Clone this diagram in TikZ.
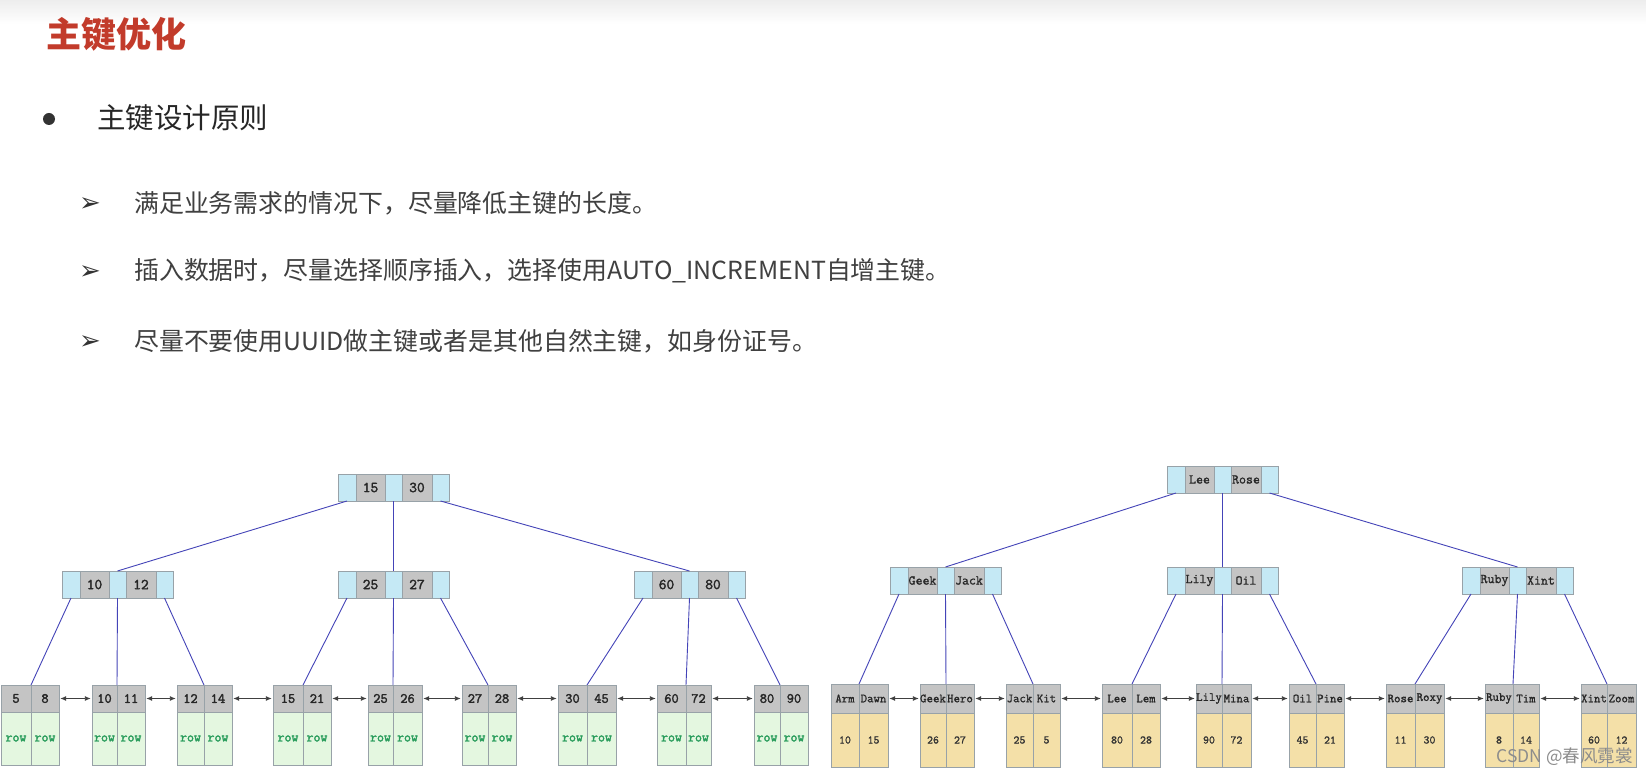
\documentclass[tikz,border=0pt]{standalone}
\usepackage{fontspec}
\setmainfont{Liberation Sans}
\newfontfamily\cjk{Noto Sans CJK SC}
\newfontfamily\cour{Latin Modern Mono}
\newfontfamily\courb{Latin Modern Mono}[FakeBold=2.2]
\newfontfamily\courm{Latin Modern Mono}[FakeBold=1.2]
\newfontfamily\djv{DejaVu Sans}
\usetikzlibrary{arrows.meta}
\definecolor{titlered}{HTML}{C23B2B}
\definecolor{ptr}{HTML}{C5E9F5}
\definecolor{keyg}{HTML}{C4C4C4}
\definecolor{cellb}{HTML}{98A2A8}
\definecolor{rowg}{HTML}{E4F7E0}
\definecolor{tanc}{HTML}{F4E0A8}
\definecolor{edgec}{HTML}{4444B8}
\definecolor{rowtxt}{HTML}{2A9D5C}
\definecolor{arrowc}{HTML}{404040}
\definecolor{bodytxt}{HTML}{404040}
\tikzset{
  cell/.style={draw=cellb, line width=0.9pt, inner sep=0pt, outer sep=0pt, anchor=north west},
  pcell/.style={cell, fill=ptr, minimum height=27pt},
  kcell/.style={cell, fill=keyg, minimum height=27pt},
  lfont/.style={font=\courb\fontsize{15}{15}\selectfont, text=black!85},
  llfont/.style={font=\courb\fontsize{14}{14}\selectfont, text=black!85},
  rfont/.style={font=\courm\fontsize{13.5}{13.5}\selectfont, text=black!85},
  rlfont/.style={font=\courm\fontsize{12.5}{12.5}\selectfont, text=black!85},
  rowfont/.style={font=\courb\fontsize{13.5}{13.5}\selectfont, text=rowtxt},
  valfont/.style={font=\courm\fontsize{11.5}{11.5}\selectfont, text=black!80},
  edge/.style={draw=edgec, line width=0.9pt},
  leafarrow/.style={{Latex[length=6pt,width=5pt]}-{Latex[length=6pt,width=5pt]}, draw=arrowc, line width=0.9pt, shorten >=1.2pt, shorten <=1.2pt},
  bodytext/.style={anchor=west, inner sep=0pt, text=bodytxt, font=\cjk\fontsize{24.9}{24.9}\selectfont},
  arrbullet/.style={inner sep=0pt, text=black!80, font=\djv\fontsize{26}{26}\selectfont},
}
% internal node: name, left, top, key1, key2, font style
\newcommand\inode[6]{%
  \node[pcell, minimum width=18pt] (#1-p1) at (#2,#3) {};
  \node[kcell, minimum width=29pt, #6] (#1-k1) at (#1-p1.north east) {#4};
  \node[pcell, minimum width=17pt] (#1-p2) at (#1-k1.north east) {};
  \node[kcell, minimum width=30pt, #6] (#1-k2) at (#1-p2.north east) {#5};
  \node[pcell, minimum width=17pt] (#1-p3) at (#1-k2.north east) {};
}
% left leaf: name, left, split, right, key1, key2
\newcommand\lleaf[6]{%
  \node[kcell, llfont, minimum width=#3pt-#2pt] (#1-k1) at (#2,685) {#5};
  \node[kcell, llfont, minimum width=#4pt-#3pt] (#1-k2) at (#1-k1.north east) {#6};
  \node[cell, fill=rowg, rowfont, minimum height=53pt, minimum width=#3pt-#2pt] (#1-v1) at (#1-k1.south west) {row};
  \node[cell, fill=rowg, rowfont, minimum height=53pt, minimum width=#4pt-#3pt] (#1-v2) at (#1-k1.south east) {row};
}
% right leaf: name, left, split, right, key1, key2, val1, val2
\newcommand\rleaf[8]{%
  \node[kcell, rlfont, minimum height=29pt, minimum width=#3pt-#2pt] (#1-k1) at (#2,684) {#5};
  \node[kcell, rlfont, minimum height=29pt, minimum width=#4pt-#3pt] (#1-k2) at (#1-k1.north east) {#6};
  \node[cell, fill=tanc, valfont, minimum height=54pt, minimum width=#3pt-#2pt] (#1-v1) at (#1-k1.south west) {#7};
  \node[cell, fill=tanc, valfont, minimum height=54pt, minimum width=#4pt-#3pt] (#1-v2) at (#1-k1.south east) {#8};
}
\begin{document}
\begin{tikzpicture}[x=1pt, y=-1pt]
\useasboundingbox (0,0) rectangle (1646,775);
\fill[white] (0,0) rectangle (1646,775);
\shade[top color=black!7, bottom color=white] (0,0) rectangle (1646,24);

% ---- text ----
\node[anchor=west, inner sep=0pt, text=titlered, font=\cjk\bfseries\fontsize{35}{35}\selectfont] (title) at (46,34) {主键优化};
\fill[black!80] (49,119) circle (6);
\node[anchor=west, inner sep=0pt, text=black!85, font=\cjk\fontsize{28.5}{28.5}\selectfont] (head) at (97,118) {主键设计原则};
\node[arrbullet] (b1) at (90,205) {➢};
\node[arrbullet] (b2) at (90,273) {➢};
\node[arrbullet] (b3) at (90,343) {➢};
\node[bodytext] (t1) at (134,203) {满足业务需求的情况下，尽量降低主键的长度。};
\node[bodytext] (t2) at (134,271) {插入数据时，尽量选择顺序插入，选择使用AUTO\_INCREMENT自增主键。};
\node[bodytext] (t3) at (134,341) {尽量不要使用UUID做主键或者是其他自然主键，如身份证号。};

% ---- left tree ----
\inode{Lr}{338}{474}{15}{30}{lfont}
\inode{La}{62}{571}{10}{12}{lfont}
\inode{Lb}{338}{571}{25}{27}{lfont}
\inode{Lc}{634}{571}{60}{80}{lfont}
\lleaf{l1}{1}{31}{59}{5}{8}
\lleaf{l2}{92}{117}{145}{10}{11}
\lleaf{l3}{177}{204}{232}{12}{14}
\lleaf{l4}{273}{303}{331}{15}{21}
\lleaf{l5}{368}{393}{422}{25}{26}
\lleaf{l6}{462}{488}{516}{27}{28}
\lleaf{l7}{558}{587}{616}{30}{45}
\lleaf{l8}{657}{686}{711}{60}{72}
\lleaf{l9}{754}{780}{808}{80}{90}

\draw[edge] (Lr-p1.south) -- (La-p2.north);
\draw[edge] (Lr-p2.south) -- (Lb-p2.north);
\draw[edge] (Lr-p3.south) -- (Lc-p2.north);
\draw[edge] (La-p1.south) -- (l1-k1.north east);
\draw[edge] (La-p2.south) -- (l2-k1.north east);
\draw[edge] (La-p3.south) -- (l3-k1.north east);
\draw[edge] (Lb-p1.south) -- (l4-k1.north east);
\draw[edge] (Lb-p2.south) -- (l5-k1.north east);
\draw[edge] (Lb-p3.south) -- (l6-k1.north east);
\draw[edge] (Lc-p1.south) -- (l7-k1.north east);
\draw[edge] (Lc-p2.south) -- (l8-k1.north east);
\draw[edge] (Lc-p3.south) -- (l9-k1.north east);
\foreach \a/\b in {l1/l2,l2/l3,l3/l4,l4/l5,l5/l6,l6/l7,l7/l8,l8/l9}
  \draw[leafarrow] (\a-k2.east) -- (\b-k1.west);

% ---- right tree ----
\inode{Rr}{1167}{466}{Lee}{Rose}{rfont}
\inode{Ra}{890}{567}{Geek}{Jack}{rfont}
\inode{Rb}{1167}{567}{Lily}{Oil}{rfont}
\inode{Rc}{1462}{567}{Ruby}{Xint}{rfont}
\rleaf{r1}{831}{859}{888}{Arm}{Dawn}{10}{15}
\rleaf{r2}{920}{946}{974}{Geek}{Hero}{26}{27}
\rleaf{r3}{1006}{1033}{1060}{Jack}{Kit}{25}{5}
\rleaf{r4}{1102}{1132}{1160}{Lee}{Lem}{80}{28}
\rleaf{r5}{1196}{1222}{1251}{Lily}{Mina}{90}{72}
\rleaf{r6}{1289}{1316}{1344}{Oil}{Pine}{45}{21}
\rleaf{r7}{1386}{1415}{1444}{Rose}{Roxy}{11}{30}
\rleaf{r8}{1485}{1513}{1539}{Ruby}{Tim}{8}{14}
\rleaf{r9}{1581}{1607}{1636}{Xint}{Zoom}{60}{12}

\draw[edge] (Rr-p1.south) -- (Ra-p2.north);
\draw[edge] (Rr-p2.south) -- (Rb-p2.north);
\draw[edge] (Rr-p3.south) -- (Rc-p2.north);
\draw[edge] (Ra-p1.south) -- (r1-k1.north east);
\draw[edge] (Ra-p2.south) -- (r2-k1.north east);
\draw[edge] (Ra-p3.south) -- (r3-k1.north east);
\draw[edge] (Rb-p1.south) -- (r4-k1.north east);
\draw[edge] (Rb-p2.south) -- (r5-k1.north east);
\draw[edge] (Rb-p3.south) -- (r6-k1.north east);
\draw[edge] (Rc-p1.south) -- (r7-k1.north east);
\draw[edge] (Rc-p2.south) -- (r8-k1.north east);
\draw[edge] (Rc-p3.south) -- (r9-k1.north east);
\foreach \a/\b in {r1/r2,r2/r3,r3/r4,r4/r5,r5/r6,r6/r7,r7/r8,r8/r9}
  \draw[leafarrow] (\a-k2.east) -- (\b-k1.west);

% ---- watermark ----
\node[anchor=east, inner sep=0pt, text=black!45, font=\cjk\fontsize{17.5}{17.5}\selectfont] (wm) at (1633,757) {CSDN @春风霓裳};
\end{tikzpicture}
\end{document}
